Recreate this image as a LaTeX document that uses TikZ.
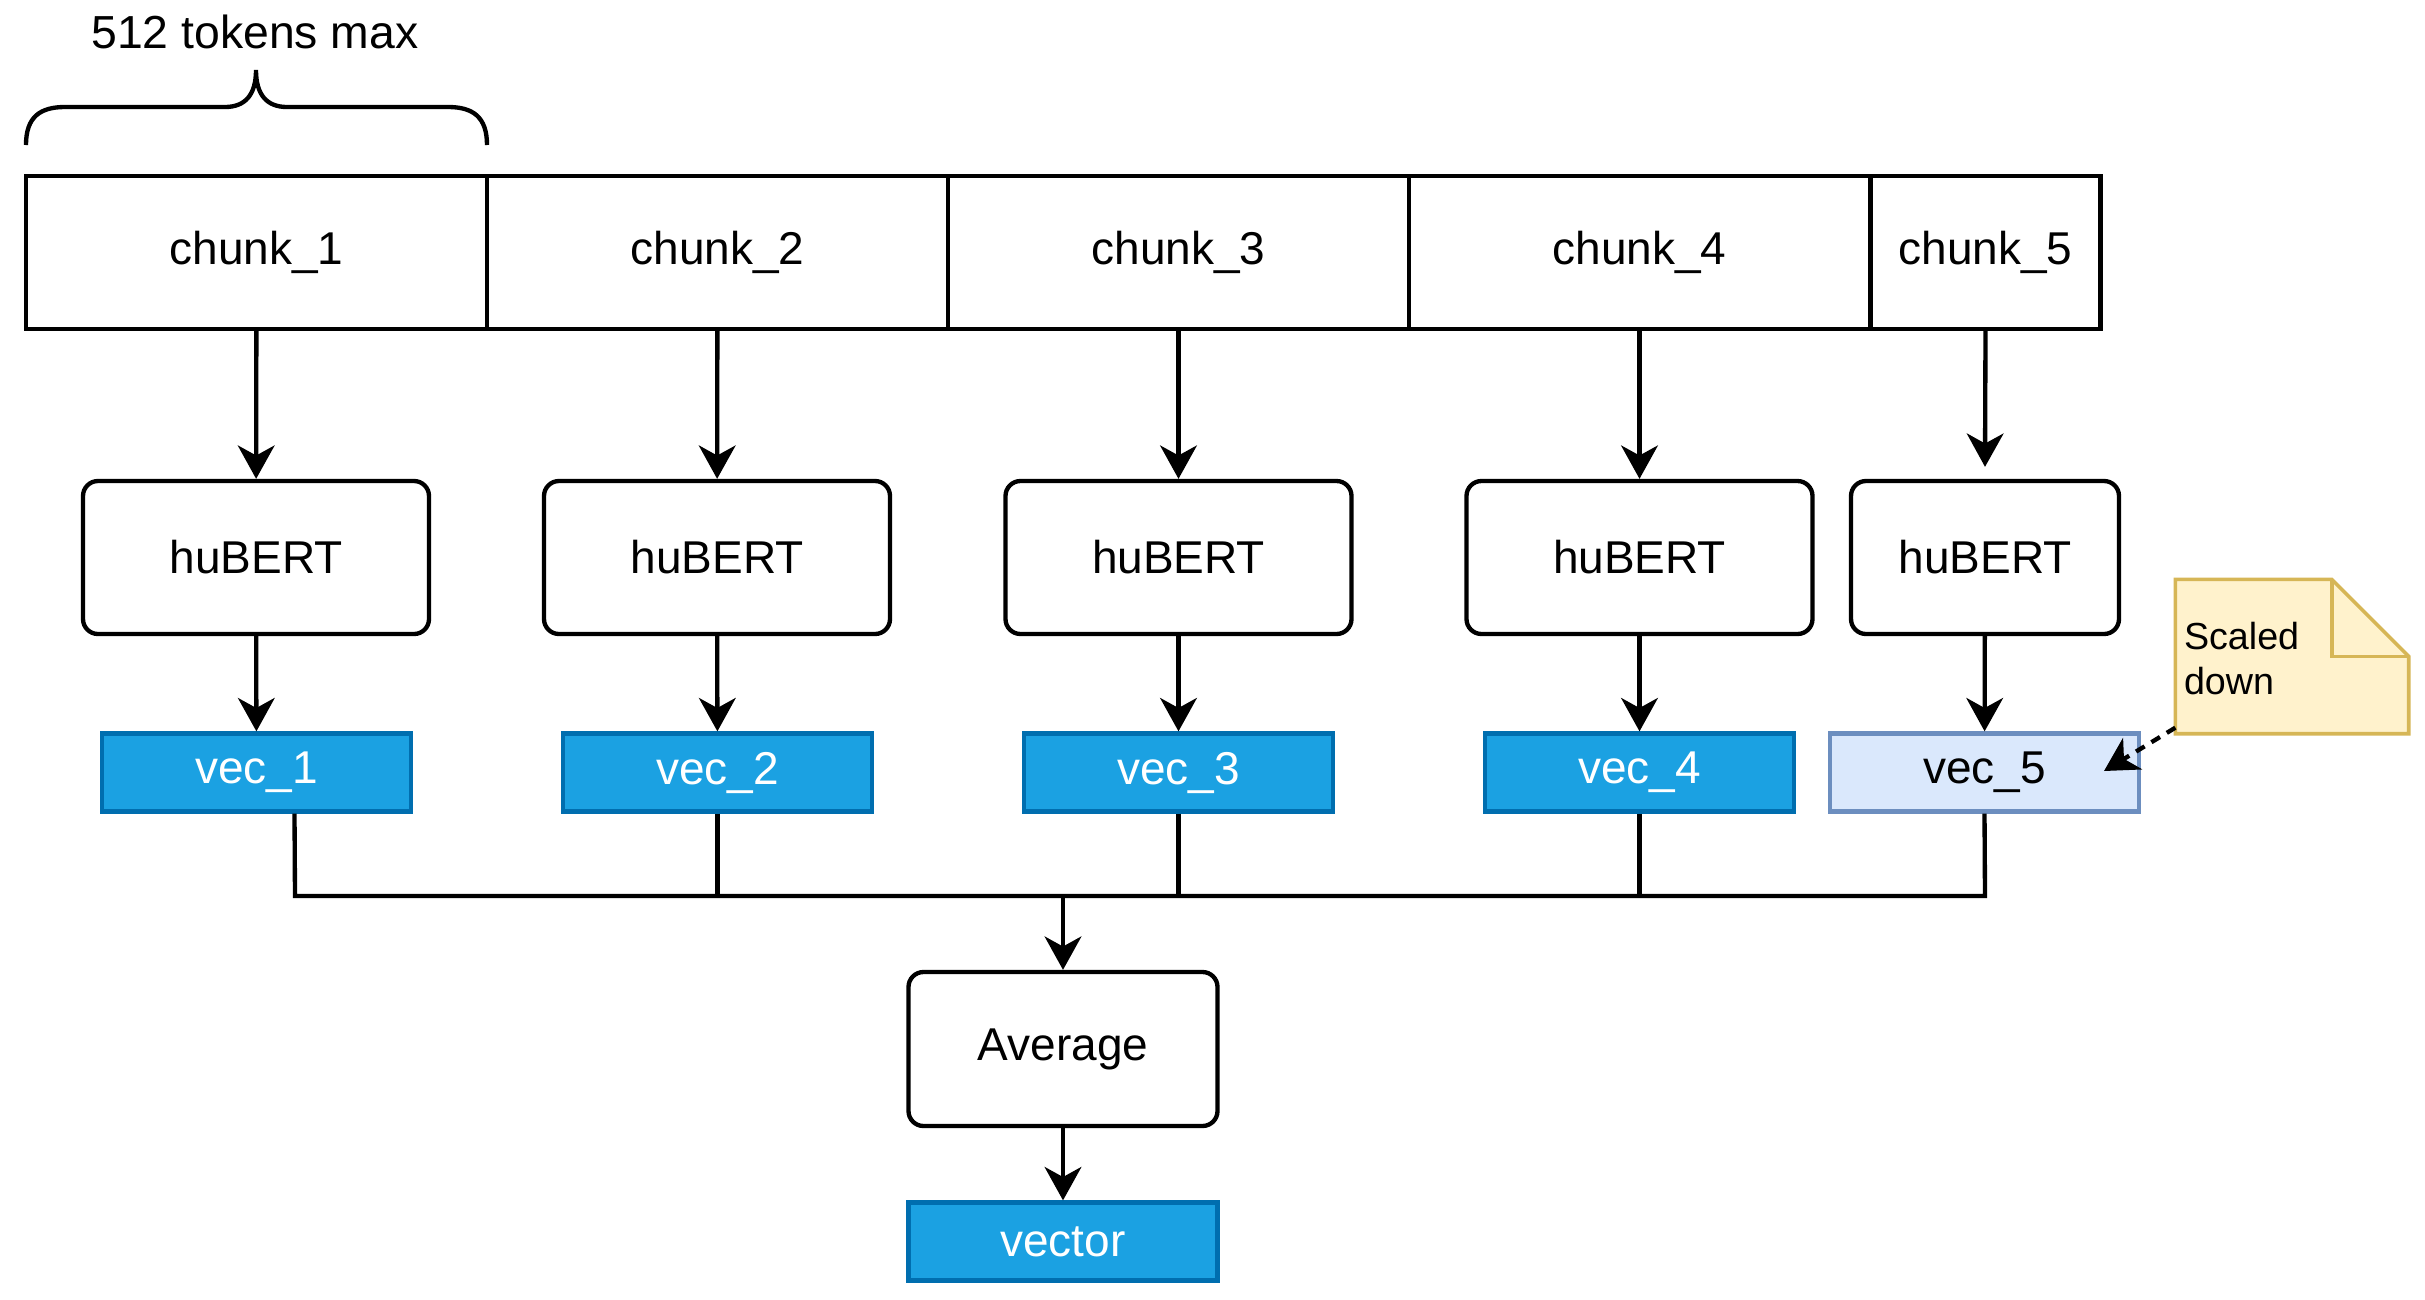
\documentclass[tikz,border=0pt]{standalone}
\usepackage{fontspec}
\setmainfont{Liberation Sans}
\usetikzlibrary{arrows.meta}
\definecolor{vecfill}{HTML}{1BA1E2}
\definecolor{vecdraw}{HTML}{006EAF}
\definecolor{vfivefill}{HTML}{DAE8FC}
\definecolor{vfivedraw}{HTML}{6C8EBF}
\definecolor{notefill}{HTML}{FFF2CC}
\definecolor{notedraw}{HTML}{D6B656}
\begin{document}
\begin{tikzpicture}[x=0.3pt,y=-0.3pt,
  box/.style={draw, line width=1.3pt, inner sep=0pt, font=\fontsize{13.8}{16}\selectfont},
  chunkbox/.style={box, minimum width=138.3pt, minimum height=45.9pt},
  bertbox/.style={box, rounded corners=4.5pt, minimum width=103.8pt, minimum height=45.9pt},
  vecbox/.style={box, fill=vecfill, draw=vecdraw, text=white, minimum width=92.7pt, minimum height=23.4pt},
  arr/.style={line width=1.3pt, -{Stealth[length=10pt,width=11pt,inset=3pt]}},
  link/.style={line width=1.3pt},
  notebox/.style={inner sep=0pt, minimum width=69.6pt, minimum height=45.9pt},
  notetxt/.style={align=left, inner sep=0pt, font=\fontsize{11.3}{13.5}\selectfont}
]
\useasboundingbox (0,0) rectangle (2425,1299);

% brace and label
\node[font=\fontsize{13.9}{16}\selectfont, inner sep=0pt] (lbl) at (255,32) {512 tokens max};
\draw[link] (26,145) .. controls (26,117) and (40,107) .. (65,107) -- (225,107)
  .. controls (245,107) and (256,95) .. (256,70)
  .. controls (256,95) and (267,107) .. (287,107) -- (448,107)
  .. controls (473,107) and (487,117) .. (487,145);

% chunks
\node[chunkbox] (c1) at (256.5,252.5) {chunk\_1};
\node[chunkbox] (c2) at (717.5,252.5) {chunk\_2};
\node[chunkbox] (c3) at (1178.5,252.5) {chunk\_3};
\node[chunkbox] (c4) at (1639.5,252.5) {chunk\_4};
\node[chunkbox, minimum width=69pt] (c5) at (1985.5,252.5) {chunk\_5};

% huBERT
\node[bertbox] (b1) at (256,557.5) {huBERT};
\node[bertbox] (b2) at (717,557.5) {huBERT};
\node[bertbox] (b3) at (1178.5,557.5) {huBERT};
\node[bertbox] (b4) at (1639.5,557.5) {huBERT};
\node[bertbox, minimum width=80.4pt] (b5) at (1985,557.5) {huBERT};

% vectors
\node[vecbox] (v1) at (256.5,772.5) {vec\_1};
\node[vecbox] (v2) at (717.5,772.5) {vec\_2};
\node[vecbox] (v3) at (1178.5,772.5) {vec\_3};
\node[vecbox] (v4) at (1639.5,772.5) {vec\_4};
\node[vecbox, fill=vfivefill, draw=vfivedraw, text=black] (v5) at (1984.5,772.5) {vec\_5};

% average and output
\node[box, rounded corners=4.5pt, minimum width=92.7pt, minimum height=46.2pt] (avg) at (1063,1049) {Average};
\node[vecbox] (vec) at (1063,1241.5) {vector};

% note
\node[notebox] (note) at (2292,656.5) {};
\draw[line width=1.1pt, draw=notedraw, fill=notefill]
  (note.north west) -- ([xshift=-23.1pt]note.north east) -- ([yshift=-23.1pt]note.north east)
  -- (note.south east) -- (note.south west) -- cycle;
\draw[line width=1.1pt, draw=notedraw]
  ([xshift=-23.1pt]note.north east) -- ([xshift=-23.1pt,yshift=-23.1pt]note.north east) -- ([yshift=-23.1pt]note.north east);
\node[notetxt, anchor=west] (notetext) at ([xshift=2.4pt,yshift=-0.6pt]note.west) {Scaled\\down};

% arrows chunk -> huBERT
\draw[arr] (c1) -- (b1);
\draw[arr] (c2) -- (b2);
\draw[arr] (c3) -- (b3);
\draw[arr] (c4) -- (b4);
\draw[arr] (c5.south) -- ([yshift=3.6pt]b5.north);

% arrows huBERT -> vec
\draw[arr] (b1) -- (v1);
\draw[arr] (b2) -- (v2);
\draw[arr] (b3) -- (v3);
\draw[arr] (b4) -- (v4);
\draw[arr] (b5) -- (v5);

% bus
\coordinate (busL) at (295,896);
\coordinate (busR) at (1985,896);
\coordinate (busM) at (1063,896);
\draw[link] ([xshift=11.4pt]v1.south) -- (busL) -- (busR) -- (v5.south);
\draw[link] (v2.south) -- (v2.south |- busL);
\draw[link] (v3.south) -- (v3.south |- busL);
\draw[link] (v4.south) -- (v4.south |- busL);
\draw[arr] (busM) -- (avg);
\draw[arr] (avg) -- (vec);

% note pointer
\coordinate (ptr) at (2104,771);
\draw[line width=1.3pt, dash pattern=on 3pt off 2.4pt, -{Stealth[length=10pt,width=11pt,inset=3pt]}]
  ([yshift=1.8pt]note.south west) -- (ptr);
\end{tikzpicture}
\end{document}
